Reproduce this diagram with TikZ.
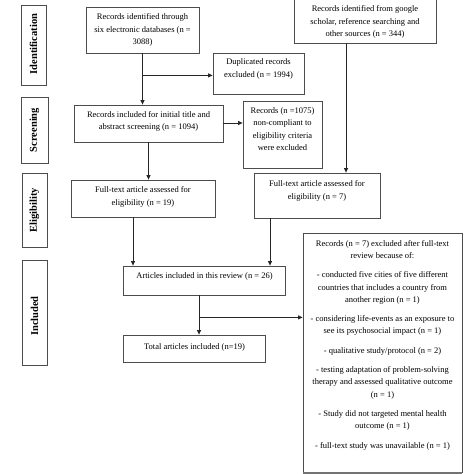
\documentclass[tikz,border=0pt]{standalone}
\usepackage{fontspec}
\setmainfont{Liberation Serif}
\usetikzlibrary{arrows.meta}
\tikzset{
  box/.style={draw=black!70, line width=0.8pt, rectangle, inner sep=0pt},
  txt/.style={align=center, inner sep=0pt, font=\fontsize{8.5}{12.3}\selectfont},
  side/.style={font=\fontsize{10.5}{12}\selectfont\bfseries, rotate=90, inner sep=0pt},
  arr/.style={draw=black!85, line width=0.8pt, -{Triangle[length=4.5pt,width=4pt]}},
  ln/.style={draw=black!85, line width=0.8pt},
}
\begin{document}
\begin{tikzpicture}[x=1pt,y=-1pt]
\useasboundingbox (0,0) rectangle (474,474);
\fill[white] (0,0) rectangle (474,474);
% side labels
\node[box, minimum width=25pt, minimum height=80pt] (sid) at (33.5,45) {};
\node[side] (sidt) at (33.5,44) {Identification};
\node[box, minimum width=27pt, minimum height=66pt] (sscr) at (34.5,130) {};
\node[side] (sscrt) at (34.5,130) {Screening};
\node[box, minimum width=25pt, minimum height=74pt] (selg) at (34.5,210) {};
\node[side] (selgt) at (34.5,210) {Eligibility};
\node[box, minimum width=25pt, minimum height=105pt] (sinc) at (34.5,312.5) {};
\node[side] (sinct) at (34.5,316) {Included};
% boxes
\node[box, minimum width=113pt, minimum height=46pt] (A) at (142.5,30) {};
\node[txt] (At) at (142.5,30) {Records identified through\\six electronic databases (n =\\3088)};
\node[box, minimum width=142pt, minimum height=45pt] (B) at (365,20.5) {};
\node[txt] (Bt) at (365,22) {Records identified from google\\scholar, reference searching and\\other sources (n = 344)};
\node[box, minimum width=91pt, minimum height=41pt] (dup) at (258.5,73.5) {};
\node[txt] (dupt) at (258.5,69) {Duplicated records\\excluded (n = 1994)};
\node[box, minimum width=149pt, minimum height=37pt] (C) at (148.5,123.5) {};
\node[txt] (Ct) at (148.5,121.5) {Records included for initial title and\\abstract screening (n = 1094)};
\node[box, minimum width=79pt, minimum height=67pt] (D) at (282.5,134.5) {};
\node[txt] (Dt) at (282.5,129) {Records (n =1075)\\non-compliant to\\eligibility criteria\\were excluded};
\node[box, minimum width=144pt, minimum height=37pt] (E1) at (143,198.5) {};
\node[txt] (E1t) at (143,197) {Full-text article assessed for\\eligibility (n = 19)};
\node[box, minimum width=126pt, minimum height=45pt] (E2) at (317,195.5) {};
\node[txt] (E2t) at (317,191) {Full-text article assessed for\\eligibility (n = 7)};
\node[box, minimum width=162pt, minimum height=29pt] (F) at (204,280.5) {};
\node[txt] (Ft) at (204.5,276) {Articles included in this review (n = 26)};
\node[box, minimum width=142pt, minimum height=27pt] (G) at (194,348.5) {};
\node[txt] (Gt) at (194.5,347) {Total articles included (n=19)};
\node[box, minimum width=159pt, minimum height=239pt] (R) at (382.5,352.5) {};
\draw[line width=2.2pt, black!55] ([yshift=-1pt]R.south west) -- ([yshift=-1pt]R.south east);
\node[txt, anchor=north] (Rt) at (382.5,240) {Records (n = 7) excluded after full-text\\review because of:\\[7pt]
- conducted five cities of five different\\countries that includes a country from\\another region (n = 1)\\[7pt]
- considering life-events as an exposure to\\see its psychosocial impact (n = 1)\\[7pt]
- qualitative study/protocol (n = 2)\\[7pt]
- testing adaptation of problem-solving\\therapy and assessed qualitative outcome\\(n = 1)\\[7pt]
- Study did not targeted mental health\\outcome (n = 1)\\[7pt]
- full-text study was unavailable (n = 1)};
% connectors
\draw[arr] (A.south) -- (A.south |- C.north);
\coordinate (j1) at ([yshift=-22pt]A.south);
\draw[arr] (j1) -- (j1 -| dup.west);
\draw[arr] ([xshift=-19pt]B.south) -- ([xshift=-19pt]B.south |- E2.north);
\draw[arr] ([yshift=0.5pt]C.east) -- ([yshift=0.5pt]C.east -| D.west);
\draw[arr] (C.south) -- (C.south |- E1.north);
\draw[arr] ([xshift=-10pt]E1.south) -- ([xshift=-10pt]E1.south |- F.north);
\draw[arr] ([xshift=-47pt]E2.south) -- ([xshift=-47pt]E2.south |- F.north);
\draw[arr] ([xshift=-5pt]F.south) -- ([xshift=-5pt]F.south |- G.north);
\coordinate (j2) at ([xshift=-5pt,yshift=-22pt]F.south);
\draw[arr] (j2) -- (j2 -| R.west);
\end{tikzpicture}
\end{document}
